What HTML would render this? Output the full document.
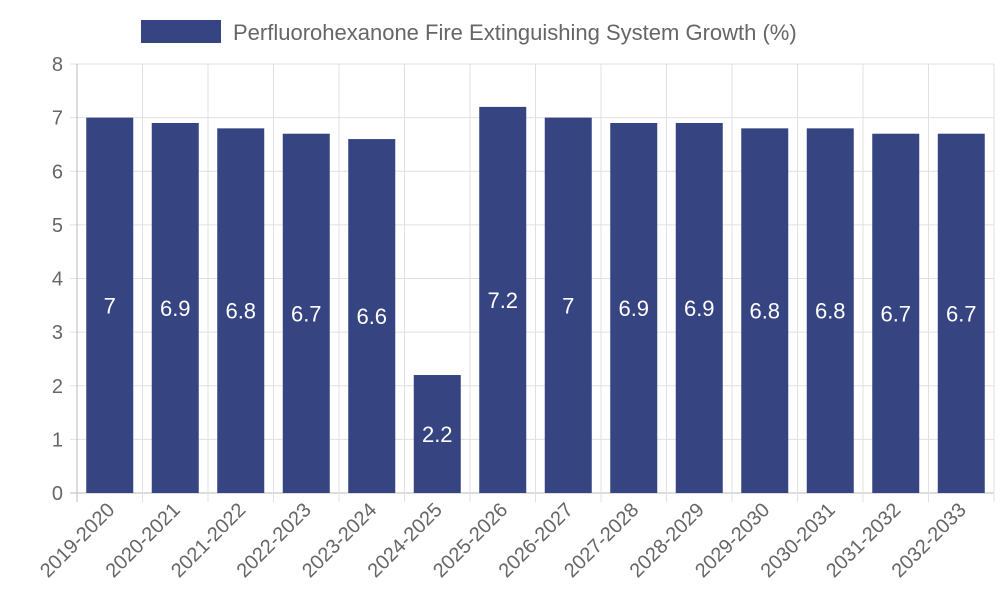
<!DOCTYPE html>
<html><head><meta charset="utf-8"><style>
body{margin:0;background:#fff;}
svg{display:block;font-family:"Liberation Sans",sans-serif;}
</style></head><body>
<svg id="chart" width="1000" height="600">
<g>
<rect x="141" y="20" width="80" height="23" fill="#364481"/>
<text x="233" y="40" font-size="22" fill="#666">Perfluorohexanone Fire Extinguishing System Growth (%)</text>
</g>
<g id="grid"></g><g id="bars"></g><g id="labels"></g>
</svg>
<script>
const categories=["2019-2020","2020-2021","2021-2022","2022-2023","2023-2024","2024-2025","2025-2026","2026-2027","2027-2028","2028-2029","2029-2030","2030-2031","2031-2032","2032-2033"];
const values=[7,6.9,6.8,6.7,6.6,2.2,7.2,7,6.9,6.9,6.8,6.8,6.7,6.7];
const yTicks=[0,1,2,3,4,5,6,7,8];
const NS="http://www.w3.org/2000/svg";
const L=77,R=994,T=64,B=493,yMax=8;
const band=(R-L)/categories.length;
const y=v=>B-(v/yMax)*(B-T);
const x=i=>L+band*i;
function mk(tag,attrs,parent){const e=document.createElementNS(NS,tag);for(const k in attrs)e.setAttribute(k,attrs[k]);parent.appendChild(e);return e;}
const grid=document.getElementById('grid'),bars=document.getElementById('bars'),labels=document.getElementById('labels');
yTicks.forEach(t=>{
 const l=mk('line',{x1:L-7,x2:R,y1:y(t),y2:y(t),stroke:t===0?'#bbb':'#e0e0e0','stroke-width':1},grid);
 
 
 const tx=mk('text',{x:L-14,y:y(t)+7,'text-anchor':'end','font-size':20,fill:'#666'},grid);
 tx.textContent=t;
 
 
});
for(let i=0;i<=categories.length;i++){
 const l=mk('line',{x1:x(i),x2:x(i),y1:T,y2:B+9,stroke:i===0?'#bbb':'#e0e0e0','stroke-width':1},grid);
 
 
}
categories.forEach((c,i)=>{
 const cx=x(i)+band/2,bw=47;
 const r=mk('rect',{x:cx-bw/2,y:y(values[i]),width:bw,height:B-y(values[i]),fill:'#364481'},bars);
 
 
 const v=mk('text',{x:cx,y:(y(values[i])+B)/2+8,'text-anchor':'middle','font-size':22,fill:'#fff'},labels);
 v.textContent=values[i];
 
 
 const t=mk('text',{x:cx+6,y:B+18,'text-anchor':'end','font-size':20,fill:'#666',transform:`rotate(-45 ${cx+6} ${B+18})`},labels);
 t.textContent=c;
 
 
});
</script>
</body></html>
